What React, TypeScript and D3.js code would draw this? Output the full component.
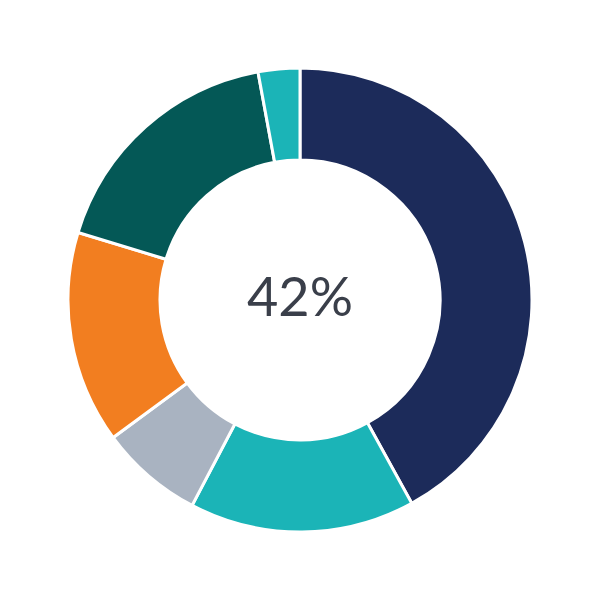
import { useEffect, useRef } from "react";
import * as d3 from "d3";

const labels = ["A", "B", "C", "D", "E", "F"];
const values = [42, 15.7, 7.2, 14.8, 17.4, 2.9];
const colors = ["#1c2b5a", "#1bb4b7", "#a9b3c1", "#f27e20", "#045856", "#1bb4b7"];
const centerLabel = "42%";

export default function App() {
  const svgRef = useRef<SVGSVGElement>(null);

  useEffect(() => {
    if (!svgRef.current) return;
    const svg = d3.select(svgRef.current);
    svg.selectAll("*").remove();

    const W = 600;
    const H = 600;
    const outerR = 232;
    const innerR = 140;

    const g = svg.append("g").attr("transform", `translate(${W / 2},${H / 2})`);

    const data = labels.map((l, i) => ({ label: l, value: values[i], color: colors[i] }));

    const pie = d3
      .pie<{ label: string; value: number; color: string }>()
      .value((d) => d.value)
      .sort(null);

    const arc = d3
      .arc<d3.PieArcDatum<{ label: string; value: number; color: string }>>()
      .innerRadius(innerR)
      .outerRadius(outerR);

    g.selectAll("path")
      .data(pie(data))
      .enter()
      .append("path")
      .attr("d", arc)
      .attr("fill", (d) => d.data.color)
      .attr("stroke", "#fff")
      .attr("stroke-width", 3);

    g.append("text")
      .attr("text-anchor", "middle")
      .attr("dy", "0.3em")
      .style("font-family", "Lato, 'Open Sans', sans-serif")
      .style("font-size", "54px")
      .style("fill", "#3a3f4a")
      .text(centerLabel);
  }, []);

  return (
    <svg
      ref={svgRef}
      width={600}
      height={600}
      style={{ position: "absolute", top: 0, left: 0, background: "#fff", display: "block" }}
    />
  );
}
